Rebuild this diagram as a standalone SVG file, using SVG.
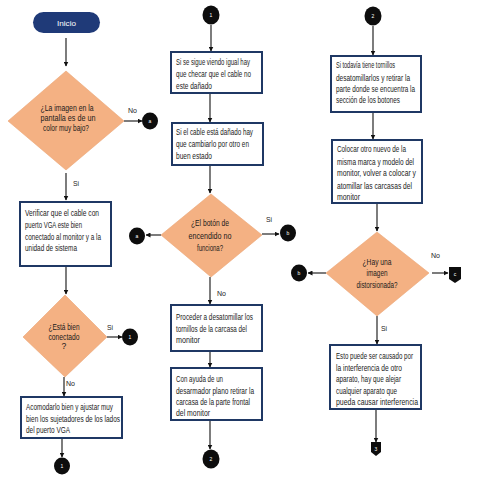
<svg xmlns="http://www.w3.org/2000/svg" width="495" height="495" viewBox="0 0 495 495">
<style>
.box{fill:#fff;stroke:#1F3864;stroke-width:2}
.dia{fill:#F4B183;stroke:#EBA474;stroke-width:0.6}
.t{font-family:"Liberation Sans",Arial,sans-serif;font-size:8.6px;fill:#1a1a1a}
.c{text-anchor:middle}
.lbl{font-family:"Liberation Sans",Arial,sans-serif;font-size:8px;fill:#222}
.dot{fill:#0d0d0d}
.dt{font-family:"Liberation Sans",Arial,sans-serif;font-size:5px;fill:#fff;text-anchor:middle}
.ln{stroke:#111;stroke-width:1.1;fill:none;marker-end:url(#ah)}
</style>
<defs>
<marker id="ah" viewBox="0 0 10 10" refX="9" refY="5" markerWidth="5" markerHeight="5" orient="auto" markerUnits="userSpaceOnUse">
<path d="M0,0 L10,5 L0,10 z" fill="#111"/>
</marker>
</defs>
<rect width="495" height="495" fill="#fff"/>

<g id="connectors">
<line class="ln" x1="66" y1="38" x2="66" y2="66"/>
<line class="ln" x1="124" y1="121" x2="142" y2="121"/>
<line class="ln" x1="66" y1="173" x2="66" y2="200"/>
<line class="ln" x1="66" y1="266" x2="66" y2="294"/>
<line class="ln" x1="107" y1="337" x2="122" y2="337"/>
<line class="ln" x1="64" y1="377" x2="64" y2="396"/>
<line class="ln" x1="62" y1="438" x2="62" y2="457"/>
<line class="ln" x1="211" y1="25" x2="211" y2="51"/>
<line class="ln" x1="210" y1="93" x2="210" y2="122"/>
<line class="ln" x1="210" y1="165" x2="210" y2="193"/>
<line class="ln" x1="161" y1="235" x2="146" y2="235"/>
<line class="ln" x1="262" y1="234" x2="279" y2="234"/>
<line class="ln" x1="210" y1="277" x2="210" y2="304"/>
<line class="ln" x1="210" y1="351" x2="210" y2="367"/>
<line class="ln" x1="210" y1="420" x2="210" y2="449"/>
<line class="ln" x1="373" y1="26" x2="373" y2="55"/>
<line class="ln" x1="373" y1="112" x2="373" y2="139"/>
<line class="ln" x1="377" y1="203" x2="377" y2="231"/>
<line class="ln" x1="326" y1="273" x2="308" y2="273"/>
<line class="ln" x1="432" y1="273" x2="448" y2="273"/>
<line class="ln" x1="377" y1="316" x2="377" y2="344"/>
<line class="ln" x1="376" y1="409" x2="376" y2="442"/>
<text class="lbl" x="128" y="113" textLength="9" lengthAdjust="spacingAndGlyphs">No</text>
<text class="lbl" x="73" y="186" textLength="6" lengthAdjust="spacingAndGlyphs">Si</text>
<text class="lbl" x="107" y="330" textLength="6" lengthAdjust="spacingAndGlyphs">Si</text>
<text class="lbl" x="66" y="386" textLength="9" lengthAdjust="spacingAndGlyphs">No</text>
<text class="lbl" x="266" y="222" textLength="6" lengthAdjust="spacingAndGlyphs">Si</text>
<text class="lbl" x="217" y="296" textLength="9" lengthAdjust="spacingAndGlyphs">No</text>
<text class="lbl" x="431" y="258" textLength="9" lengthAdjust="spacingAndGlyphs">No</text>
<text class="lbl" x="381" y="331" textLength="6" lengthAdjust="spacingAndGlyphs">Si</text>
</g>

<g id="inicio">
<rect x="33" y="12" width="67" height="21" rx="10.5" fill="#1F3A78"/>
<text x="66.5" y="25.5" font-family="Liberation Sans, Arial, sans-serif" font-size="8" fill="#fff" text-anchor="middle" textLength="19" lengthAdjust="spacingAndGlyphs">Inicio</text>
</g>

<g id="d1">
<polygon class="dia" points="66,71 124,121 66,170 8,121"/>
<text class="t c" x="67" y="111" textLength="53" lengthAdjust="spacingAndGlyphs">¿La imagen en la</text>
<text class="t c" x="68" y="121" textLength="55" lengthAdjust="spacingAndGlyphs">pantalla es de un</text>
<text class="t c" x="66" y="131" textLength="46" lengthAdjust="spacingAndGlyphs">color muy bajo?</text>
</g>

<g id="box1">
<rect class="box" x="20" y="202" width="91" height="64"/>
<text class="t" x="25" y="216" textLength="74" lengthAdjust="spacingAndGlyphs">Verificar que el cable con</text>
<text class="t" x="25" y="228" textLength="57" lengthAdjust="spacingAndGlyphs">puerto VGA este bien</text>
<text class="t" x="25" y="240" textLength="76" lengthAdjust="spacingAndGlyphs">conectado al monitor y a la</text>
<text class="t" x="25" y="251" textLength="52" lengthAdjust="spacingAndGlyphs">unidad de sistema</text>
</g>

<g id="d2">
<polygon class="dia" points="65,295 107,337 65,377 23,337"/>
<text class="t c" x="64" y="330" textLength="31" lengthAdjust="spacingAndGlyphs">¿Está bien</text>
<text class="t c" x="64" y="340" textLength="31" lengthAdjust="spacingAndGlyphs">conectado</text>
<text class="t c" x="64" y="349">?</text>
</g>

<g id="box2">
<rect class="box" x="21" y="397" width="101" height="41"/>
<text class="t" x="26" y="410" textLength="87" lengthAdjust="spacingAndGlyphs">Acomodarlo bien y ajustar muy</text>
<text class="t" x="26" y="422" textLength="94" lengthAdjust="spacingAndGlyphs">bien los sujetadores de los lados</text>
<text class="t" x="26" y="433" textLength="44" lengthAdjust="spacingAndGlyphs">del puerto VGA</text>
</g>

<g id="box3">
<rect class="box" x="171" y="52" width="91" height="41"/>
<text class="t" x="176" y="65" textLength="74" lengthAdjust="spacingAndGlyphs">Si se sigue viendo igual hay</text>
<text class="t" x="176" y="77" textLength="75" lengthAdjust="spacingAndGlyphs">que checar que el cable no</text>
<text class="t" x="176" y="89" textLength="36" lengthAdjust="spacingAndGlyphs">este dañado</text>
</g>

<g id="box4">
<rect class="box" x="172" y="123" width="91" height="42"/>
<text class="t" x="176" y="135" textLength="77" lengthAdjust="spacingAndGlyphs">Si el cable está dañado hay</text>
<text class="t" x="176" y="147" textLength="73" lengthAdjust="spacingAndGlyphs">que cambiarlo por otro en</text>
<text class="t" x="176" y="159" textLength="36" lengthAdjust="spacingAndGlyphs">buen estado</text>
</g>

<g id="d3">
<polygon class="dia" points="211,194 262,235 211,277 161,235"/>
<text class="t c" x="210" y="226" textLength="38" lengthAdjust="spacingAndGlyphs">¿El botón de</text>
<text class="t c" x="210" y="239" textLength="43" lengthAdjust="spacingAndGlyphs">encendido no</text>
<text class="t c" x="210" y="251" textLength="26" lengthAdjust="spacingAndGlyphs">funciona?</text>
</g>

<g id="box5">
<rect class="box" x="171" y="305" width="91" height="46"/>
<text class="t" x="176" y="320" textLength="77" lengthAdjust="spacingAndGlyphs">Proceder a desatomillar los</text>
<text class="t" x="176" y="332" textLength="71" lengthAdjust="spacingAndGlyphs">tornillos de la carcasa del</text>
<text class="t" x="176" y="343" textLength="24" lengthAdjust="spacingAndGlyphs">monitor</text>
</g>

<g id="box6">
<rect class="box" x="171" y="368" width="91" height="52"/>
<text class="t" x="176" y="382" textLength="47" lengthAdjust="spacingAndGlyphs">Con ayuda de un</text>
<text class="t" x="176" y="394" textLength="78" lengthAdjust="spacingAndGlyphs">desarmador plano retirar la</text>
<text class="t" x="176" y="405" textLength="74" lengthAdjust="spacingAndGlyphs">carcasa de la parte frontal</text>
<text class="t" x="176" y="416" textLength="34" lengthAdjust="spacingAndGlyphs">del monitor</text>
</g>

<g id="box7">
<rect class="box" x="331" y="56" width="90" height="56"/>
<text class="t" x="336" y="68" textLength="59" lengthAdjust="spacingAndGlyphs">Si todavía tiene tornillos</text>
<text class="t" x="336" y="81" textLength="74" lengthAdjust="spacingAndGlyphs">desatomillarlos y retirar la</text>
<text class="t" x="336" y="92" textLength="79" lengthAdjust="spacingAndGlyphs">parte donde se encuentra la</text>
<text class="t" x="336" y="103" textLength="64" lengthAdjust="spacingAndGlyphs">sección de los botones</text>
</g>

<g id="box8">
<rect class="box" x="332" y="140" width="90" height="63"/>
<text class="t" x="337" y="152" textLength="69" lengthAdjust="spacingAndGlyphs">Colocar otro nuevo de la</text>
<text class="t" x="337" y="165" textLength="77" lengthAdjust="spacingAndGlyphs">misma marca y modelo del</text>
<text class="t" x="337" y="176" textLength="79" lengthAdjust="spacingAndGlyphs">monitor, volver a colocar y</text>
<text class="t" x="337" y="189" textLength="75" lengthAdjust="spacingAndGlyphs">atomillar las carcasas del</text>
<text class="t" x="337" y="200" textLength="23" lengthAdjust="spacingAndGlyphs">monitor</text>
</g>

<g id="d4">
<polygon class="dia" points="377,232 429,273 377,316 326,273"/>
<text class="t c" x="377" y="265" textLength="29" lengthAdjust="spacingAndGlyphs">¿Hay una</text>
<text class="t c" x="377" y="276" textLength="21" lengthAdjust="spacingAndGlyphs">imagen</text>
<text class="t c" x="377" y="288" textLength="41" lengthAdjust="spacingAndGlyphs">distorsionada?</text>
</g>

<g id="box9">
<rect class="box" x="330" y="345" width="91" height="64"/>
<text class="t" x="336" y="359" textLength="77" lengthAdjust="spacingAndGlyphs">Esto puede ser causado por</text>
<text class="t" x="336" y="371" textLength="66" lengthAdjust="spacingAndGlyphs">la interferencia de otro</text>
<text class="t" x="336" y="382" textLength="65" lengthAdjust="spacingAndGlyphs">aparato, hay que alejar</text>
<text class="t" x="336" y="394" textLength="61" lengthAdjust="spacingAndGlyphs">cualquier aparato que</text>
<text class="t" x="336" y="405" textLength="82" lengthAdjust="spacingAndGlyphs">pueda causar interferencia</text>
</g>

<g id="conn-a1"><ellipse class="dot" cx="150" cy="121" rx="8" ry="8.5"/><text class="dt" x="150" y="123">a</text></g>
<g id="conn-1a"><ellipse class="dot" cx="130" cy="337" rx="8" ry="8.5"/><text class="dt" x="130" y="339">1</text></g>
<g id="conn-1b"><ellipse class="dot" cx="62" cy="466" rx="8" ry="8.5"/><text class="dt" x="62" y="468">1</text></g>
<g id="conn-1c"><ellipse class="dot" cx="211" cy="15" rx="8.5" ry="9.5"/><text class="dt" x="211" y="17">1</text></g>
<g id="conn-a2"><ellipse class="dot" cx="137" cy="236" rx="8" ry="8.5"/><text class="dt" x="137" y="238">a</text></g>
<g id="conn-b1"><ellipse class="dot" cx="288" cy="233" rx="8" ry="8.5"/><text class="dt" x="288" y="235">b</text></g>
<g id="conn-2a"><ellipse class="dot" cx="211" cy="459" rx="8.5" ry="9.5"/><text class="dt" x="211" y="461">2</text></g>
<g id="conn-2b"><ellipse class="dot" cx="373" cy="16" rx="8.5" ry="9.5"/><text class="dt" x="373" y="18">2</text></g>
<g id="conn-b2"><ellipse class="dot" cx="299" cy="273" rx="8" ry="8.5"/><text class="dt" x="299" y="275">b</text></g>
<g id="offpage-c"><polygon class="dot" points="449,267 461,267 461,279 455,283 449,279"/><text class="dt" x="455" y="276">c</text></g>
<g id="offpage-3"><polygon class="dot" points="371,442 381,442 381,452 376,456 371,452"/><text class="dt" x="376" y="451">3</text></g>
</svg>
